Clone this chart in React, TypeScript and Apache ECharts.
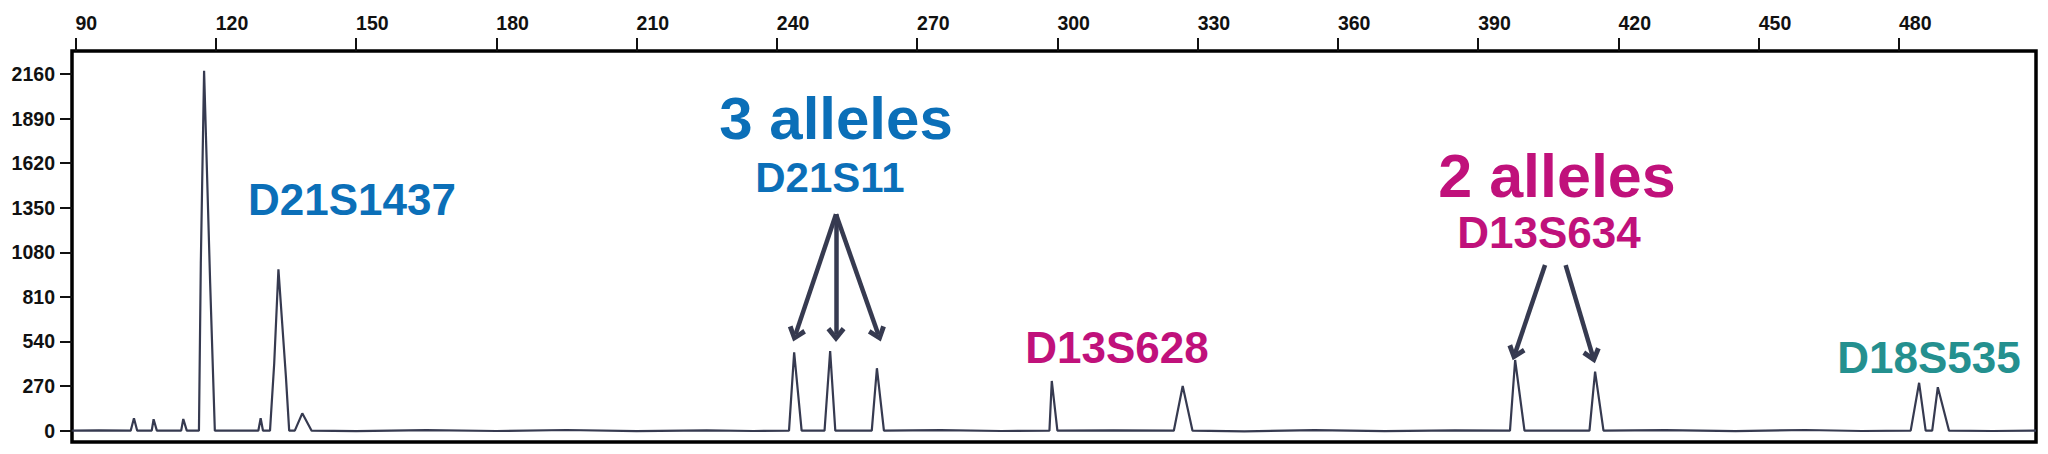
import React, { useEffect, useRef } from 'react';
import * as echarts from 'echarts';

// Electropherogram trace: fragment size (bp) and signal (RFU)
const sizes = [
  89.3, 95, 101.8, 102.5, 103.2, 106.3, 106.7, 107.4, 112.6, 113.05, 113.8,
  116.4, 116.8, 117.5, 118.8, 119.8, 129.1, 129.6, 130.1, 131.6, 132.5, 133.4,
  135.0, 135.7, 136.9, 138.5, 140.5, 150, 165, 180, 195, 210, 225, 235,
  242.6, 243.7, 245.3, 250.2, 251.4, 252.5, 260.3, 261.4, 262.9, 275, 288,
  298.3, 298.8, 300.0, 312, 324.9, 326.8, 328.9, 340, 355, 370, 385,
  396.8, 397.9, 399.9, 413.8, 415.0, 416.8, 430, 445, 460, 472,
  482.5, 484.3, 485.7, 487.1, 488.3, 490.7, 500, 509.3,
];
const rfu = [
  0, 2, 0, 75, 0, 0, 69, 0, 0, 71, 0,
  0, 1013, 2179, 892, 0, 0, 75, 0, 0, 408, 977,
  327, 0, 0, 105, 0, -3, 3, -2, 4, -3, 2, -2,
  0, 474, 0, 0, 482, 0, 0, 378, 0, 3, -2,
  0, 301, 0, 2, 0, 271, 0, -4, 3, -3, 2,
  0, 428, 0, 0, 357, 0, 3, -3, 4, -2,
  0, 290, 0, 0, 263, 0, -2, 0,
];

const xTicks = [90, 120, 150, 180, 210, 240, 270, 300, 330, 360, 390, 420, 450, 480];
const yTicks = [0, 270, 540, 810, 1080, 1350, 1620, 1890, 2160];

// arrows in data space: [fromSize, fromRfu, toSize, toRfu]
const arrowCoords = [
  [252.65, 1310, 244.0, 583],
  [252.65, 1310, 252.65, 583],
  [252.65, 1310, 261.7, 583],
  [404.3, 1003, 397.9, 469],
  [408.7, 1003, 414.5, 452],
];

const BLUE = '#0b6fb8';
const MAGENTA = '#c0117b';
const TEAL = '#24908f';
const INK = '#363a50';
const FONT = '"Liberation Sans", Arial, sans-serif';

// annotation labels (pixel positions inside the 2048x454 canvas)
const annotations = [
  { text: 'D21S1437', color: BLUE, size: 44, x: 352, y: 199 },
  { text: '3 alleles', color: BLUE, size: 60, x: 836, y: 118 },
  { text: 'D21S11', color: BLUE, size: 42, x: 830, y: 177 },
  { text: 'D13S628', color: MAGENTA, size: 44, x: 1117, y: 347 },
  { text: '2 alleles', color: MAGENTA, size: 61, x: 1557, y: 176 },
  { text: 'D13S634', color: MAGENTA, size: 44, x: 1549, y: 232 },
  { text: 'D18S535', color: TEAL, size: 44, x: 1929, y: 357 },
];

const CHEVRON = 'path://M50,0 L100,72 L80,92 L50,46 L20,92 L0,72 Z';

export default function App() {
  const chartRef = useRef<HTMLDivElement>(null);

  useEffect(() => {
    document.body.style.margin = '0';
    if (!chartRef.current) return;
    const chart = echarts.init(chartRef.current, null, { renderer: 'svg' });

    const tickLabel = {
      color: '#111',
      fontSize: 19.5,
      fontWeight: 'bold' as const,
      fontFamily: FONT,
      formatter: (v: number) => String(v),
    };

    chart.setOption({
      animation: false,
      backgroundColor: '#fff',
      grid: {
        show: true,
        left: 72,
        right: 12,
        top: 51,
        bottom: 12,
        borderColor: '#000',
        borderWidth: 3.5,
        backgroundColor: 'transparent',
      },
      xAxis: {
        type: 'value',
        position: 'top',
        min: 89.25,
        max: 509.3,
        axisLine: { show: false, onZero: false },
        splitLine: { show: false },
        axisTick: {
          show: true,
          inside: false,
          customValues: xTicks,
          length: 13,
          lineStyle: { color: '#111', width: 2 },
        },
        axisLabel: {
          ...tickLabel,
          customValues: xTicks,
          align: 'left',
          margin: 18,
        },
      },
      yAxis: {
        type: 'value',
        min: -68.6,
        max: 2299,
        axisLine: { show: false, onZero: false },
        splitLine: { show: false },
        axisTick: {
          show: true,
          inside: false,
          customValues: yTicks,
          length: 12,
          lineStyle: { color: '#111', width: 2 },
        },
        axisLabel: {
          ...tickLabel,
          customValues: yTicks,
          margin: 17,
          padding: [0, 0, 12, 0],
        },
      },
      series: [
        {
          type: 'line',
          data: sizes.map((s, i) => [s, rfu[i]]),
          showSymbol: false,
          lineStyle: { color: INK, width: 2.2 },
          markLine: {
            silent: true,
            symbol: ['none', CHEVRON],
            symbolSize: [19, 15],
            label: { show: false },
            lineStyle: { color: INK, width: 4.5, type: 'solid' },
            data: arrowCoords.map(([x1, y1, x2, y2]) => [
              { coord: [x1, y1] },
              { coord: [x2, y2] },
            ]),
          },
        },
      ],
      graphic: annotations.map((a) => ({
        type: 'text',
        x: a.x,
        y: a.y,
        silent: true,
        style: {
          text: a.text,
          fill: a.color,
          font: `bold ${a.size}px ${FONT}`,
          align: 'center',
          verticalAlign: 'middle',
        },
      })),
    });

    return () => {
      chart.dispose();
    };
  }, []);

  return <div ref={chartRef} style={{ width: '2048px', height: '454px' }} />;
}
